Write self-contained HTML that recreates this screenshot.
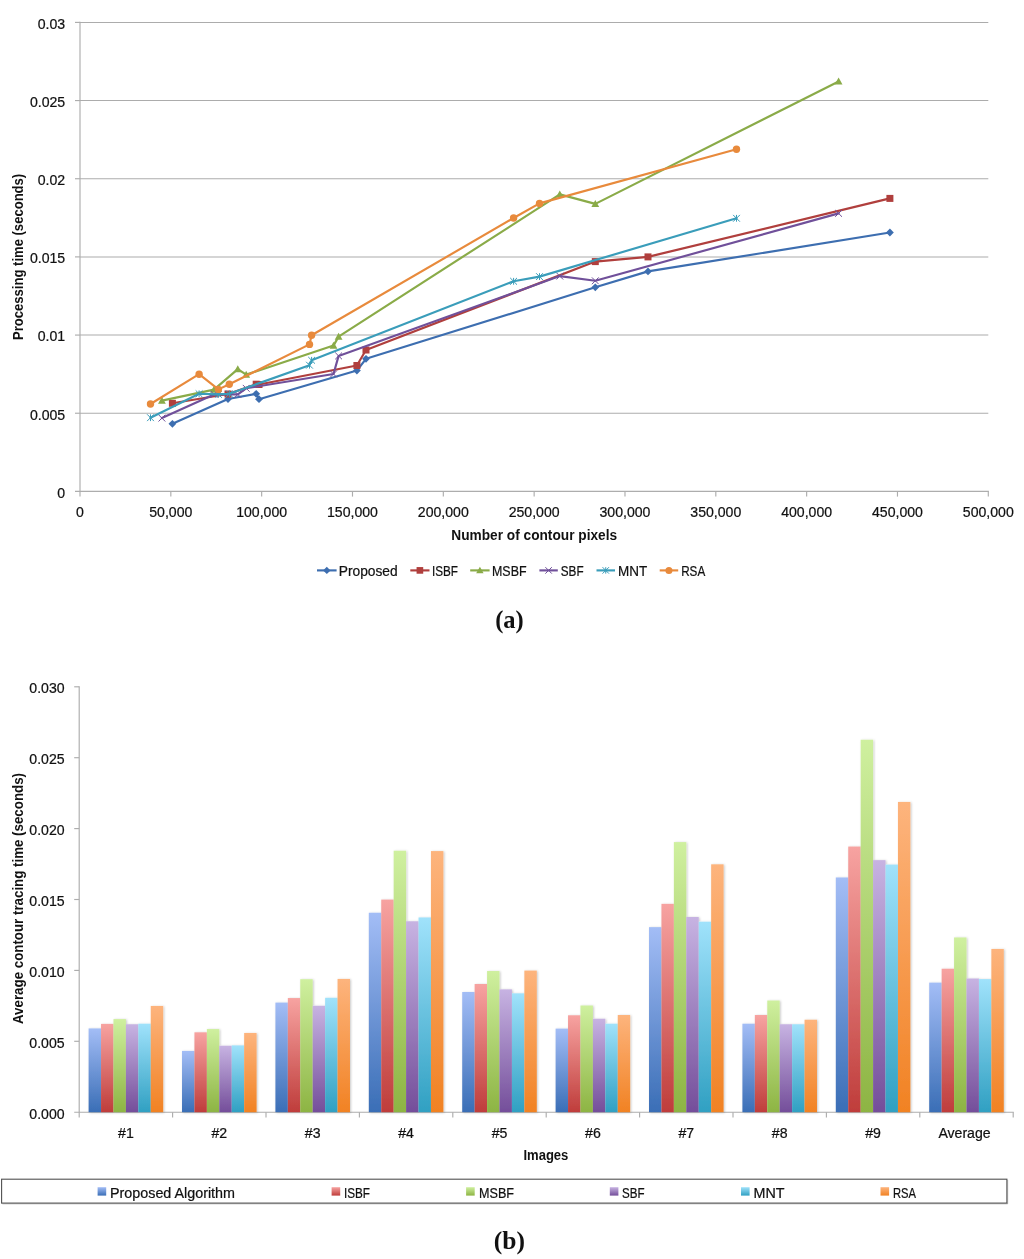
<!DOCTYPE html>
<html><head><meta charset="utf-8"><title>Contour tracing processing time</title>
<style>
html,body{margin:0;padding:0;background:#fff;}
svg{display:block;}
</style></head>
<body>
<svg width="1024" height="1259" viewBox="0 0 1024 1259">
<defs><filter id="sh2" x="-2%" y="-30%" width="104%" height="170%"><feDropShadow dx="0.5" dy="0.8" stdDeviation="0.7" flood-color="#000" flood-opacity="0.25"/></filter></defs>
<rect width="1024" height="1259" fill="#fff"/>
<g stroke="#acacac" stroke-width="1.05" fill="none">
<line x1="80.0" y1="413.23" x2="988.3" y2="413.23"/>
<line x1="80.0" y1="335.07" x2="988.3" y2="335.07"/>
<line x1="80.0" y1="256.90" x2="988.3" y2="256.90"/>
<line x1="80.0" y1="178.73" x2="988.3" y2="178.73"/>
<line x1="80.0" y1="100.57" x2="988.3" y2="100.57"/>
<line x1="80.0" y1="22.40" x2="988.3" y2="22.40"/>
</g>
<g stroke="#adadad" stroke-width="1.15" fill="none">
<line x1="80.0" y1="21.80" x2="80.0" y2="496.60"/>
<line x1="75.0" y1="491.4" x2="988.9" y2="491.4"/>
<line x1="75.0" y1="413.23" x2="80.0" y2="413.23"/>
<line x1="75.0" y1="335.07" x2="80.0" y2="335.07"/>
<line x1="75.0" y1="256.90" x2="80.0" y2="256.90"/>
<line x1="75.0" y1="178.73" x2="80.0" y2="178.73"/>
<line x1="75.0" y1="100.57" x2="80.0" y2="100.57"/>
<line x1="75.0" y1="22.40" x2="80.0" y2="22.40"/>
<line x1="170.83" y1="491.4" x2="170.83" y2="496.60"/>
<line x1="261.66" y1="491.4" x2="261.66" y2="496.60"/>
<line x1="352.49" y1="491.4" x2="352.49" y2="496.60"/>
<line x1="443.32" y1="491.4" x2="443.32" y2="496.60"/>
<line x1="534.15" y1="491.4" x2="534.15" y2="496.60"/>
<line x1="624.98" y1="491.4" x2="624.98" y2="496.60"/>
<line x1="715.81" y1="491.4" x2="715.81" y2="496.60"/>
<line x1="806.64" y1="491.4" x2="806.64" y2="496.60"/>
<line x1="897.47" y1="491.4" x2="897.47" y2="496.60"/>
<line x1="988.30" y1="491.4" x2="988.30" y2="496.60"/>
</g>
<g font-family='"Liberation Sans", sans-serif' font-size="14.1" fill="#111" stroke="#111" stroke-width="0.22">
<text x="65.2" y="497.70" text-anchor="end">0</text>
<text x="65.2" y="419.53" text-anchor="end">0.005</text>
<text x="65.2" y="341.37" text-anchor="end">0.01</text>
<text x="65.2" y="263.20" text-anchor="end">0.015</text>
<text x="65.2" y="185.03" text-anchor="end">0.02</text>
<text x="65.2" y="106.87" text-anchor="end">0.025</text>
<text x="65.2" y="28.70" text-anchor="end">0.03</text>
<text x="80.00" y="517.2" text-anchor="middle">0</text>
<text x="170.83" y="517.2" text-anchor="middle">50,000</text>
<text x="261.66" y="517.2" text-anchor="middle">100,000</text>
<text x="352.49" y="517.2" text-anchor="middle">150,000</text>
<text x="443.32" y="517.2" text-anchor="middle">200,000</text>
<text x="534.15" y="517.2" text-anchor="middle">250,000</text>
<text x="624.98" y="517.2" text-anchor="middle">300,000</text>
<text x="715.81" y="517.2" text-anchor="middle">350,000</text>
<text x="806.64" y="517.2" text-anchor="middle">400,000</text>
<text x="897.47" y="517.2" text-anchor="middle">450,000</text>
<text x="988.30" y="517.2" text-anchor="middle">500,000</text>
</g>
<text x="534.2" y="540.2" text-anchor="middle" font-family='"Liberation Sans", sans-serif' font-weight="bold" font-size="14.1" fill="#111" textLength="165.8" lengthAdjust="spacingAndGlyphs">Number of contour pixels</text>
<text transform="translate(22.5 256.9) rotate(-90)" text-anchor="middle" font-family='"Liberation Sans", sans-serif' font-weight="bold" font-size="14.1" fill="#111" textLength="166.2" lengthAdjust="spacingAndGlyphs">Processing time (seconds)</text>
<polyline points="172.4,423.8 228.0,399.0 256.2,393.8 259.0,399.2 356.9,370.5 366.0,358.8 595.3,287.3 648.0,271.4 889.9,232.5" fill="none" stroke="#3d6eb0" stroke-width="2.15" stroke-linejoin="round" stroke-linecap="round"/>
<path d="M168.50 423.80L172.40 419.90L176.30 423.80L172.40 427.70Z" fill="#3d6eb0"/>
<path d="M224.10 399.00L228.00 395.10L231.90 399.00L228.00 402.90Z" fill="#3d6eb0"/>
<path d="M252.30 393.80L256.20 389.90L260.10 393.80L256.20 397.70Z" fill="#3d6eb0"/>
<path d="M255.10 399.20L259.00 395.30L262.90 399.20L259.00 403.10Z" fill="#3d6eb0"/>
<path d="M353.00 370.50L356.90 366.60L360.80 370.50L356.90 374.40Z" fill="#3d6eb0"/>
<path d="M362.10 358.80L366.00 354.90L369.90 358.80L366.00 362.70Z" fill="#3d6eb0"/>
<path d="M591.40 287.30L595.30 283.40L599.20 287.30L595.30 291.20Z" fill="#3d6eb0"/>
<path d="M644.10 271.40L648.00 267.50L651.90 271.40L648.00 275.30Z" fill="#3d6eb0"/>
<path d="M886.00 232.50L889.90 228.60L893.80 232.50L889.90 236.40Z" fill="#3d6eb0"/>
<polyline points="172.4,403.3 228.0,394.0 256.2,384.2 259.0,384.5 356.9,365.5 366.0,350.0 595.3,261.6 648.0,256.9 889.9,198.4" fill="none" stroke="#b03f3d" stroke-width="2.15" stroke-linejoin="round" stroke-linecap="round"/>
<rect x="168.90" y="399.80" width="7.00" height="7.00" fill="#b03f3d"/>
<rect x="224.50" y="390.50" width="7.00" height="7.00" fill="#b03f3d"/>
<rect x="252.70" y="380.70" width="7.00" height="7.00" fill="#b03f3d"/>
<rect x="255.50" y="381.00" width="7.00" height="7.00" fill="#b03f3d"/>
<rect x="353.40" y="362.00" width="7.00" height="7.00" fill="#b03f3d"/>
<rect x="362.50" y="346.50" width="7.00" height="7.00" fill="#b03f3d"/>
<rect x="591.80" y="258.10" width="7.00" height="7.00" fill="#b03f3d"/>
<rect x="644.50" y="253.40" width="7.00" height="7.00" fill="#b03f3d"/>
<rect x="886.40" y="194.90" width="7.00" height="7.00" fill="#b03f3d"/>
<polyline points="161.9,400.6 214.0,389.6 237.8,369.1 246.2,374.6 333.5,345.6 338.6,336.6 559.8,194.4 595.3,203.9 838.6,81.5" fill="none" stroke="#8aab48" stroke-width="2.15" stroke-linejoin="round" stroke-linecap="round"/>
<path d="M161.90 396.70L165.80 403.72L158.00 403.72Z" fill="#8aab48"/>
<path d="M214.00 385.70L217.90 392.72L210.10 392.72Z" fill="#8aab48"/>
<path d="M237.80 365.20L241.70 372.22L233.90 372.22Z" fill="#8aab48"/>
<path d="M246.20 370.70L250.10 377.72L242.30 377.72Z" fill="#8aab48"/>
<path d="M333.50 341.70L337.40 348.72L329.60 348.72Z" fill="#8aab48"/>
<path d="M338.60 332.70L342.50 339.72L334.70 339.72Z" fill="#8aab48"/>
<path d="M559.80 190.50L563.70 197.52L555.90 197.52Z" fill="#8aab48"/>
<path d="M595.30 200.00L599.20 207.02L591.40 207.02Z" fill="#8aab48"/>
<path d="M838.60 77.60L842.50 84.62L834.70 84.62Z" fill="#8aab48"/>
<polyline points="161.9,418.1 214.0,394.4 237.8,394.4 246.2,388.3 333.5,374.0 338.6,355.9 559.8,276.1 595.3,280.8 838.6,213.4" fill="none" stroke="#70509a" stroke-width="2.15" stroke-linejoin="round" stroke-linecap="round"/>
<path d="M158.50 414.70L165.30 421.50M158.50 421.50L165.30 414.70" stroke="#70509a" stroke-width="1" fill="none"/>
<path d="M210.60 391.00L217.40 397.80M210.60 397.80L217.40 391.00" stroke="#70509a" stroke-width="1" fill="none"/>
<path d="M234.40 391.00L241.20 397.80M234.40 397.80L241.20 391.00" stroke="#70509a" stroke-width="1" fill="none"/>
<path d="M242.80 384.90L249.60 391.70M242.80 391.70L249.60 384.90" stroke="#70509a" stroke-width="1" fill="none"/>
<path d="M330.10 370.60L336.90 377.40M330.10 377.40L336.90 370.60" stroke="#70509a" stroke-width="1" fill="none"/>
<path d="M335.20 352.50L342.00 359.30M335.20 359.30L342.00 352.50" stroke="#70509a" stroke-width="1" fill="none"/>
<path d="M556.40 272.70L563.20 279.50M556.40 279.50L563.20 272.70" stroke="#70509a" stroke-width="1" fill="none"/>
<path d="M591.90 277.40L598.70 284.20M591.90 284.20L598.70 277.40" stroke="#70509a" stroke-width="1" fill="none"/>
<path d="M835.20 210.00L842.00 216.80M835.20 216.80L842.00 210.00" stroke="#70509a" stroke-width="1" fill="none"/>
<polyline points="150.5,417.7 199.1,393.8 218.4,394.4 229.3,393.8 309.5,365.2 311.6,360.3 513.6,281.3 539.5,276.6 736.5,218.3" fill="none" stroke="#3a9dba" stroke-width="2.15" stroke-linejoin="round" stroke-linecap="round"/>
<path d="M147.10 414.30L153.90 421.10M147.10 421.10L153.90 414.30M150.50 414.30L150.50 421.10" stroke="#3a9dba" stroke-width="1" fill="none"/>
<path d="M195.70 390.40L202.50 397.20M195.70 397.20L202.50 390.40M199.10 390.40L199.10 397.20" stroke="#3a9dba" stroke-width="1" fill="none"/>
<path d="M215.00 391.00L221.80 397.80M215.00 397.80L221.80 391.00M218.40 391.00L218.40 397.80" stroke="#3a9dba" stroke-width="1" fill="none"/>
<path d="M225.90 390.40L232.70 397.20M225.90 397.20L232.70 390.40M229.30 390.40L229.30 397.20" stroke="#3a9dba" stroke-width="1" fill="none"/>
<path d="M306.10 361.80L312.90 368.60M306.10 368.60L312.90 361.80M309.50 361.80L309.50 368.60" stroke="#3a9dba" stroke-width="1" fill="none"/>
<path d="M308.20 356.90L315.00 363.70M308.20 363.70L315.00 356.90M311.60 356.90L311.60 363.70" stroke="#3a9dba" stroke-width="1" fill="none"/>
<path d="M510.20 277.90L517.00 284.70M510.20 284.70L517.00 277.90M513.60 277.90L513.60 284.70" stroke="#3a9dba" stroke-width="1" fill="none"/>
<path d="M536.10 273.20L542.90 280.00M536.10 280.00L542.90 273.20M539.50 273.20L539.50 280.00" stroke="#3a9dba" stroke-width="1" fill="none"/>
<path d="M733.10 214.90L739.90 221.70M733.10 221.70L739.90 214.90M736.50 214.90L736.50 221.70" stroke="#3a9dba" stroke-width="1" fill="none"/>
<polyline points="150.5,404.0 199.1,374.2 218.4,389.4 229.3,384.2 309.5,344.4 311.6,335.2 513.6,218.0 539.5,203.4 736.5,149.2" fill="none" stroke="#e88a3c" stroke-width="2.15" stroke-linejoin="round" stroke-linecap="round"/>
<circle cx="150.50" cy="404.00" r="3.70" fill="#e88a3c"/>
<circle cx="199.10" cy="374.20" r="3.70" fill="#e88a3c"/>
<circle cx="218.40" cy="389.40" r="3.70" fill="#e88a3c"/>
<circle cx="229.30" cy="384.20" r="3.70" fill="#e88a3c"/>
<circle cx="309.50" cy="344.40" r="3.70" fill="#e88a3c"/>
<circle cx="311.60" cy="335.20" r="3.70" fill="#e88a3c"/>
<circle cx="513.60" cy="218.00" r="3.70" fill="#e88a3c"/>
<circle cx="539.50" cy="203.40" r="3.70" fill="#e88a3c"/>
<circle cx="736.50" cy="149.20" r="3.70" fill="#e88a3c"/>
<line x1="317.0" y1="570.4" x2="336.6" y2="570.4" stroke="#3d6eb0" stroke-width="2.15"/>
<path d="M323.10 570.40L326.80 566.69L330.50 570.40L326.80 574.11Z" fill="#3d6eb0"/>
<text x="338.7" y="575.8" font-family='"Liberation Sans", sans-serif' font-size="14.1" fill="#111" stroke="#111" stroke-width="0.22" textLength="59.0" lengthAdjust="spacingAndGlyphs">Proposed</text>
<line x1="410.3" y1="570.4" x2="429.5" y2="570.4" stroke="#b03f3d" stroke-width="2.15"/>
<rect x="416.57" y="567.07" width="6.65" height="6.65" fill="#b03f3d"/>
<text x="432.0" y="575.8" font-family='"Liberation Sans", sans-serif' font-size="14.1" fill="#111" stroke="#111" stroke-width="0.22" textLength="26.0" lengthAdjust="spacingAndGlyphs">ISBF</text>
<line x1="470.2" y1="570.4" x2="489.6" y2="570.4" stroke="#8aab48" stroke-width="2.15"/>
<path d="M479.90 566.69L483.60 573.36L476.19 573.36Z" fill="#8aab48"/>
<text x="492.0" y="575.8" font-family='"Liberation Sans", sans-serif' font-size="14.1" fill="#111" stroke="#111" stroke-width="0.22" textLength="34.5" lengthAdjust="spacingAndGlyphs">MSBF</text>
<line x1="539.4" y1="570.4" x2="557.8" y2="570.4" stroke="#70509a" stroke-width="2.15"/>
<path d="M545.37 567.17L551.83 573.63M545.37 573.63L551.83 567.17" stroke="#70509a" stroke-width="1" fill="none"/>
<text x="560.8" y="575.8" font-family='"Liberation Sans", sans-serif' font-size="14.1" fill="#111" stroke="#111" stroke-width="0.22" textLength="22.8" lengthAdjust="spacingAndGlyphs">SBF</text>
<line x1="596.5" y1="570.4" x2="615.0" y2="570.4" stroke="#3a9dba" stroke-width="2.15"/>
<path d="M602.52 567.17L608.98 573.63M602.52 573.63L608.98 567.17M605.75 567.17L605.75 573.63" stroke="#3a9dba" stroke-width="1" fill="none"/>
<text x="618.0" y="575.8" font-family='"Liberation Sans", sans-serif' font-size="14.1" fill="#111" stroke="#111" stroke-width="0.22" textLength="29.2" lengthAdjust="spacingAndGlyphs">MNT</text>
<line x1="659.7" y1="570.4" x2="678.2" y2="570.4" stroke="#e88a3c" stroke-width="2.15"/>
<circle cx="668.95" cy="570.40" r="3.52" fill="#e88a3c"/>
<text x="681.2" y="575.8" font-family='"Liberation Sans", sans-serif' font-size="14.1" fill="#111" stroke="#111" stroke-width="0.22" textLength="24.0" lengthAdjust="spacingAndGlyphs">RSA</text>
<text x="509.5" y="628" text-anchor="middle" font-family='"Liberation Serif", serif' font-weight="bold" font-size="24.5" fill="#111">(a)</text>
<text x="509.4" y="1248.6" text-anchor="middle" font-family='"Liberation Serif", serif' font-weight="bold" font-size="25.5" fill="#111">(b)</text>
<g stroke="#adadad" stroke-width="1.15" fill="none">
<line x1="79.2" y1="686.20" x2="79.2" y2="1117.40"/>
<line x1="74.2" y1="1112.2" x2="1013.80" y2="1112.2"/>
<line x1="74.2" y1="1041.30" x2="79.2" y2="1041.30"/>
<line x1="74.2" y1="970.40" x2="79.2" y2="970.40"/>
<line x1="74.2" y1="899.50" x2="79.2" y2="899.50"/>
<line x1="74.2" y1="828.60" x2="79.2" y2="828.60"/>
<line x1="74.2" y1="757.70" x2="79.2" y2="757.70"/>
<line x1="74.2" y1="686.80" x2="79.2" y2="686.80"/>
<line x1="172.60" y1="1112.2" x2="172.60" y2="1117.40"/>
<line x1="266.00" y1="1112.2" x2="266.00" y2="1117.40"/>
<line x1="359.40" y1="1112.2" x2="359.40" y2="1117.40"/>
<line x1="452.80" y1="1112.2" x2="452.80" y2="1117.40"/>
<line x1="546.20" y1="1112.2" x2="546.20" y2="1117.40"/>
<line x1="639.60" y1="1112.2" x2="639.60" y2="1117.40"/>
<line x1="733.00" y1="1112.2" x2="733.00" y2="1117.40"/>
<line x1="826.40" y1="1112.2" x2="826.40" y2="1117.40"/>
<line x1="919.80" y1="1112.2" x2="919.80" y2="1117.40"/>
<line x1="1013.20" y1="1112.2" x2="1013.20" y2="1117.40"/>
</g>
<g font-family='"Liberation Sans", sans-serif' font-size="14.1" fill="#111" stroke="#111" stroke-width="0.22">
<text x="64.6" y="1118.80" text-anchor="end">0.000</text>
<text x="64.6" y="1047.90" text-anchor="end">0.005</text>
<text x="64.6" y="977.00" text-anchor="end">0.010</text>
<text x="64.6" y="906.10" text-anchor="end">0.015</text>
<text x="64.6" y="835.20" text-anchor="end">0.020</text>
<text x="64.6" y="764.30" text-anchor="end">0.025</text>
<text x="64.6" y="693.40" text-anchor="end">0.030</text>
<text x="125.90" y="1137.6" text-anchor="middle">#1</text>
<text x="219.30" y="1137.6" text-anchor="middle">#2</text>
<text x="312.70" y="1137.6" text-anchor="middle">#3</text>
<text x="406.10" y="1137.6" text-anchor="middle">#4</text>
<text x="499.50" y="1137.6" text-anchor="middle">#5</text>
<text x="592.90" y="1137.6" text-anchor="middle">#6</text>
<text x="686.30" y="1137.6" text-anchor="middle">#7</text>
<text x="779.70" y="1137.6" text-anchor="middle">#8</text>
<text x="873.10" y="1137.6" text-anchor="middle">#9</text>
<text x="964.50" y="1137.6" text-anchor="middle">Average</text>
</g>
<text x="545.9" y="1160" text-anchor="middle" font-family='"Liberation Sans", sans-serif' font-weight="bold" font-size="14.1" fill="#111" textLength="45" lengthAdjust="spacingAndGlyphs">Images</text>
<text transform="translate(22.9 898.5) rotate(-90)" text-anchor="middle" font-family='"Liberation Sans", sans-serif' font-weight="bold" font-size="14.1" fill="#111" textLength="251" lengthAdjust="spacingAndGlyphs">Average contour tracing time (seconds)</text>
<defs>
<linearGradient id="g0" x1="0" y1="0" x2="0" y2="1"><stop offset="0" stop-color="#a3bdf6"/><stop offset="1" stop-color="#3a6eb6"/></linearGradient>
<linearGradient id="g1" x1="0" y1="0" x2="0" y2="1"><stop offset="0" stop-color="#f7a3a1"/><stop offset="1" stop-color="#bf3d3b"/></linearGradient>
<linearGradient id="g2" x1="0" y1="0" x2="0" y2="1"><stop offset="0" stop-color="#cff09f"/><stop offset="1" stop-color="#8db443"/></linearGradient>
<linearGradient id="g3" x1="0" y1="0" x2="0" y2="1"><stop offset="0" stop-color="#c7b3e2"/><stop offset="1" stop-color="#744e9a"/></linearGradient>
<linearGradient id="g4" x1="0" y1="0" x2="0" y2="1"><stop offset="0" stop-color="#a0e2fb"/><stop offset="1" stop-color="#30a0c2"/></linearGradient>
<linearGradient id="g5" x1="0" y1="0" x2="0" y2="1"><stop offset="0" stop-color="#fdb47d"/><stop offset="1" stop-color="#f18223"/></linearGradient>
<filter id="sh" x="-20%" y="-5%" width="150%" height="110%"><feDropShadow dx="1" dy="0.5" stdDeviation="1" flood-color="#000" flood-opacity="0.22"/></filter>
</defs>
<g filter="url(#sh)">
<rect x="88.61" y="1028.43" width="12.43" height="83.77" fill="url(#g0)"/>
<rect x="101.04" y="1023.89" width="12.43" height="88.31" fill="url(#g1)"/>
<rect x="113.47" y="1019.09" width="12.43" height="93.11" fill="url(#g2)"/>
<rect x="125.90" y="1024.25" width="12.43" height="87.95" fill="url(#g3)"/>
<rect x="138.33" y="1023.71" width="12.43" height="88.49" fill="url(#g4)"/>
<rect x="150.76" y="1005.94" width="12.43" height="106.26" fill="url(#g5)"/>
<rect x="182.01" y="1050.91" width="12.43" height="61.29" fill="url(#g0)"/>
<rect x="194.44" y="1032.32" width="12.43" height="79.88" fill="url(#g1)"/>
<rect x="206.87" y="1029.06" width="12.43" height="83.14" fill="url(#g2)"/>
<rect x="219.30" y="1045.74" width="12.43" height="66.46" fill="url(#g3)"/>
<rect x="231.73" y="1045.38" width="12.43" height="66.82" fill="url(#g4)"/>
<rect x="244.16" y="1032.96" width="12.43" height="79.24" fill="url(#g5)"/>
<rect x="275.41" y="1002.59" width="12.43" height="109.61" fill="url(#g0)"/>
<rect x="287.84" y="998.05" width="12.43" height="114.15" fill="url(#g1)"/>
<rect x="300.27" y="979.19" width="12.43" height="133.01" fill="url(#g2)"/>
<rect x="312.70" y="1005.76" width="12.43" height="106.44" fill="url(#g3)"/>
<rect x="325.13" y="997.78" width="12.43" height="114.42" fill="url(#g4)"/>
<rect x="337.56" y="978.92" width="12.43" height="133.28" fill="url(#g5)"/>
<rect x="368.81" y="912.74" width="12.43" height="199.46" fill="url(#g0)"/>
<rect x="381.24" y="899.59" width="12.43" height="212.61" fill="url(#g1)"/>
<rect x="393.67" y="850.72" width="12.43" height="261.48" fill="url(#g2)"/>
<rect x="406.10" y="921.26" width="12.43" height="190.94" fill="url(#g3)"/>
<rect x="418.53" y="917.45" width="12.43" height="194.75" fill="url(#g4)"/>
<rect x="430.96" y="851.08" width="12.43" height="261.12" fill="url(#g5)"/>
<rect x="462.21" y="991.98" width="12.43" height="120.22" fill="url(#g0)"/>
<rect x="474.64" y="984.00" width="12.43" height="128.20" fill="url(#g1)"/>
<rect x="487.07" y="971.03" width="12.43" height="141.17" fill="url(#g2)"/>
<rect x="499.50" y="989.35" width="12.43" height="122.85" fill="url(#g3)"/>
<rect x="511.93" y="993.34" width="12.43" height="118.86" fill="url(#g4)"/>
<rect x="524.36" y="970.58" width="12.43" height="141.62" fill="url(#g5)"/>
<rect x="555.61" y="1028.61" width="12.43" height="83.59" fill="url(#g0)"/>
<rect x="568.04" y="1015.28" width="12.43" height="96.92" fill="url(#g1)"/>
<rect x="580.47" y="1005.49" width="12.43" height="106.71" fill="url(#g2)"/>
<rect x="592.90" y="1018.72" width="12.43" height="93.48" fill="url(#g3)"/>
<rect x="605.33" y="1023.71" width="12.43" height="88.49" fill="url(#g4)"/>
<rect x="617.76" y="1015.01" width="12.43" height="97.19" fill="url(#g5)"/>
<rect x="649.01" y="927.15" width="12.43" height="185.05" fill="url(#g0)"/>
<rect x="661.44" y="903.85" width="12.43" height="208.35" fill="url(#g1)"/>
<rect x="673.87" y="842.11" width="12.43" height="270.09" fill="url(#g2)"/>
<rect x="686.30" y="917.00" width="12.43" height="195.20" fill="url(#g3)"/>
<rect x="698.73" y="921.71" width="12.43" height="190.49" fill="url(#g4)"/>
<rect x="711.16" y="864.32" width="12.43" height="247.88" fill="url(#g5)"/>
<rect x="742.41" y="1023.71" width="12.43" height="88.49" fill="url(#g0)"/>
<rect x="754.84" y="1015.01" width="12.43" height="97.19" fill="url(#g1)"/>
<rect x="767.27" y="1000.50" width="12.43" height="111.70" fill="url(#g2)"/>
<rect x="779.70" y="1024.25" width="12.43" height="87.95" fill="url(#g3)"/>
<rect x="792.13" y="1024.25" width="12.43" height="87.95" fill="url(#g4)"/>
<rect x="804.56" y="1019.72" width="12.43" height="92.48" fill="url(#g5)"/>
<rect x="835.81" y="877.47" width="12.43" height="234.73" fill="url(#g0)"/>
<rect x="848.24" y="846.55" width="12.43" height="265.65" fill="url(#g1)"/>
<rect x="860.67" y="739.75" width="12.43" height="372.45" fill="url(#g2)"/>
<rect x="873.10" y="860.15" width="12.43" height="252.05" fill="url(#g3)"/>
<rect x="885.53" y="864.59" width="12.43" height="247.61" fill="url(#g4)"/>
<rect x="897.96" y="801.94" width="12.43" height="310.26" fill="url(#g5)"/>
<rect x="929.21" y="982.62" width="12.43" height="129.58" fill="url(#g0)"/>
<rect x="941.64" y="968.73" width="12.43" height="143.47" fill="url(#g1)"/>
<rect x="954.07" y="937.44" width="12.43" height="174.76" fill="url(#g2)"/>
<rect x="966.50" y="978.50" width="12.43" height="133.70" fill="url(#g3)"/>
<rect x="978.93" y="979.10" width="12.43" height="133.10" fill="url(#g4)"/>
<rect x="991.36" y="948.94" width="12.43" height="163.26" fill="url(#g5)"/>
</g>
<path d="M2.4 1203.9H1007.7V1180" fill="none" stroke="#000" stroke-opacity="0.22" stroke-width="1"/>
<rect x="1.6" y="1179.2" width="1005.3" height="23.9" fill="#fff" stroke="#505050" stroke-width="1.1"/>
<rect x="97.6" y="1187.2" width="8.6" height="8.4" fill="url(#g0)"/>
<text x="110.0" y="1197.5" font-family='"Liberation Sans", sans-serif' font-size="14.1" fill="#111" stroke="#111" stroke-width="0.22" textLength="125.0" lengthAdjust="spacingAndGlyphs">Proposed Algorithm</text>
<rect x="331.6" y="1187.2" width="8.6" height="8.4" fill="url(#g1)"/>
<text x="344.0" y="1197.5" font-family='"Liberation Sans", sans-serif' font-size="14.1" fill="#111" stroke="#111" stroke-width="0.22" textLength="26.0" lengthAdjust="spacingAndGlyphs">ISBF</text>
<rect x="466.1" y="1187.2" width="8.6" height="8.4" fill="url(#g2)"/>
<text x="479.0" y="1197.5" font-family='"Liberation Sans", sans-serif' font-size="14.1" fill="#111" stroke="#111" stroke-width="0.22" textLength="35.0" lengthAdjust="spacingAndGlyphs">MSBF</text>
<rect x="609.8" y="1187.2" width="8.6" height="8.4" fill="url(#g3)"/>
<text x="622.0" y="1197.5" font-family='"Liberation Sans", sans-serif' font-size="14.1" fill="#111" stroke="#111" stroke-width="0.22" textLength="22.5" lengthAdjust="spacingAndGlyphs">SBF</text>
<rect x="741.0" y="1187.2" width="8.6" height="8.4" fill="url(#g4)"/>
<text x="753.5" y="1197.5" font-family='"Liberation Sans", sans-serif' font-size="14.1" fill="#111" stroke="#111" stroke-width="0.22" textLength="31.0" lengthAdjust="spacingAndGlyphs">MNT</text>
<rect x="880.5" y="1187.2" width="8.6" height="8.4" fill="url(#g5)"/>
<text x="893.0" y="1197.5" font-family='"Liberation Sans", sans-serif' font-size="14.1" fill="#111" stroke="#111" stroke-width="0.22" textLength="23.0" lengthAdjust="spacingAndGlyphs">RSA</text>
</svg>
</body></html>
